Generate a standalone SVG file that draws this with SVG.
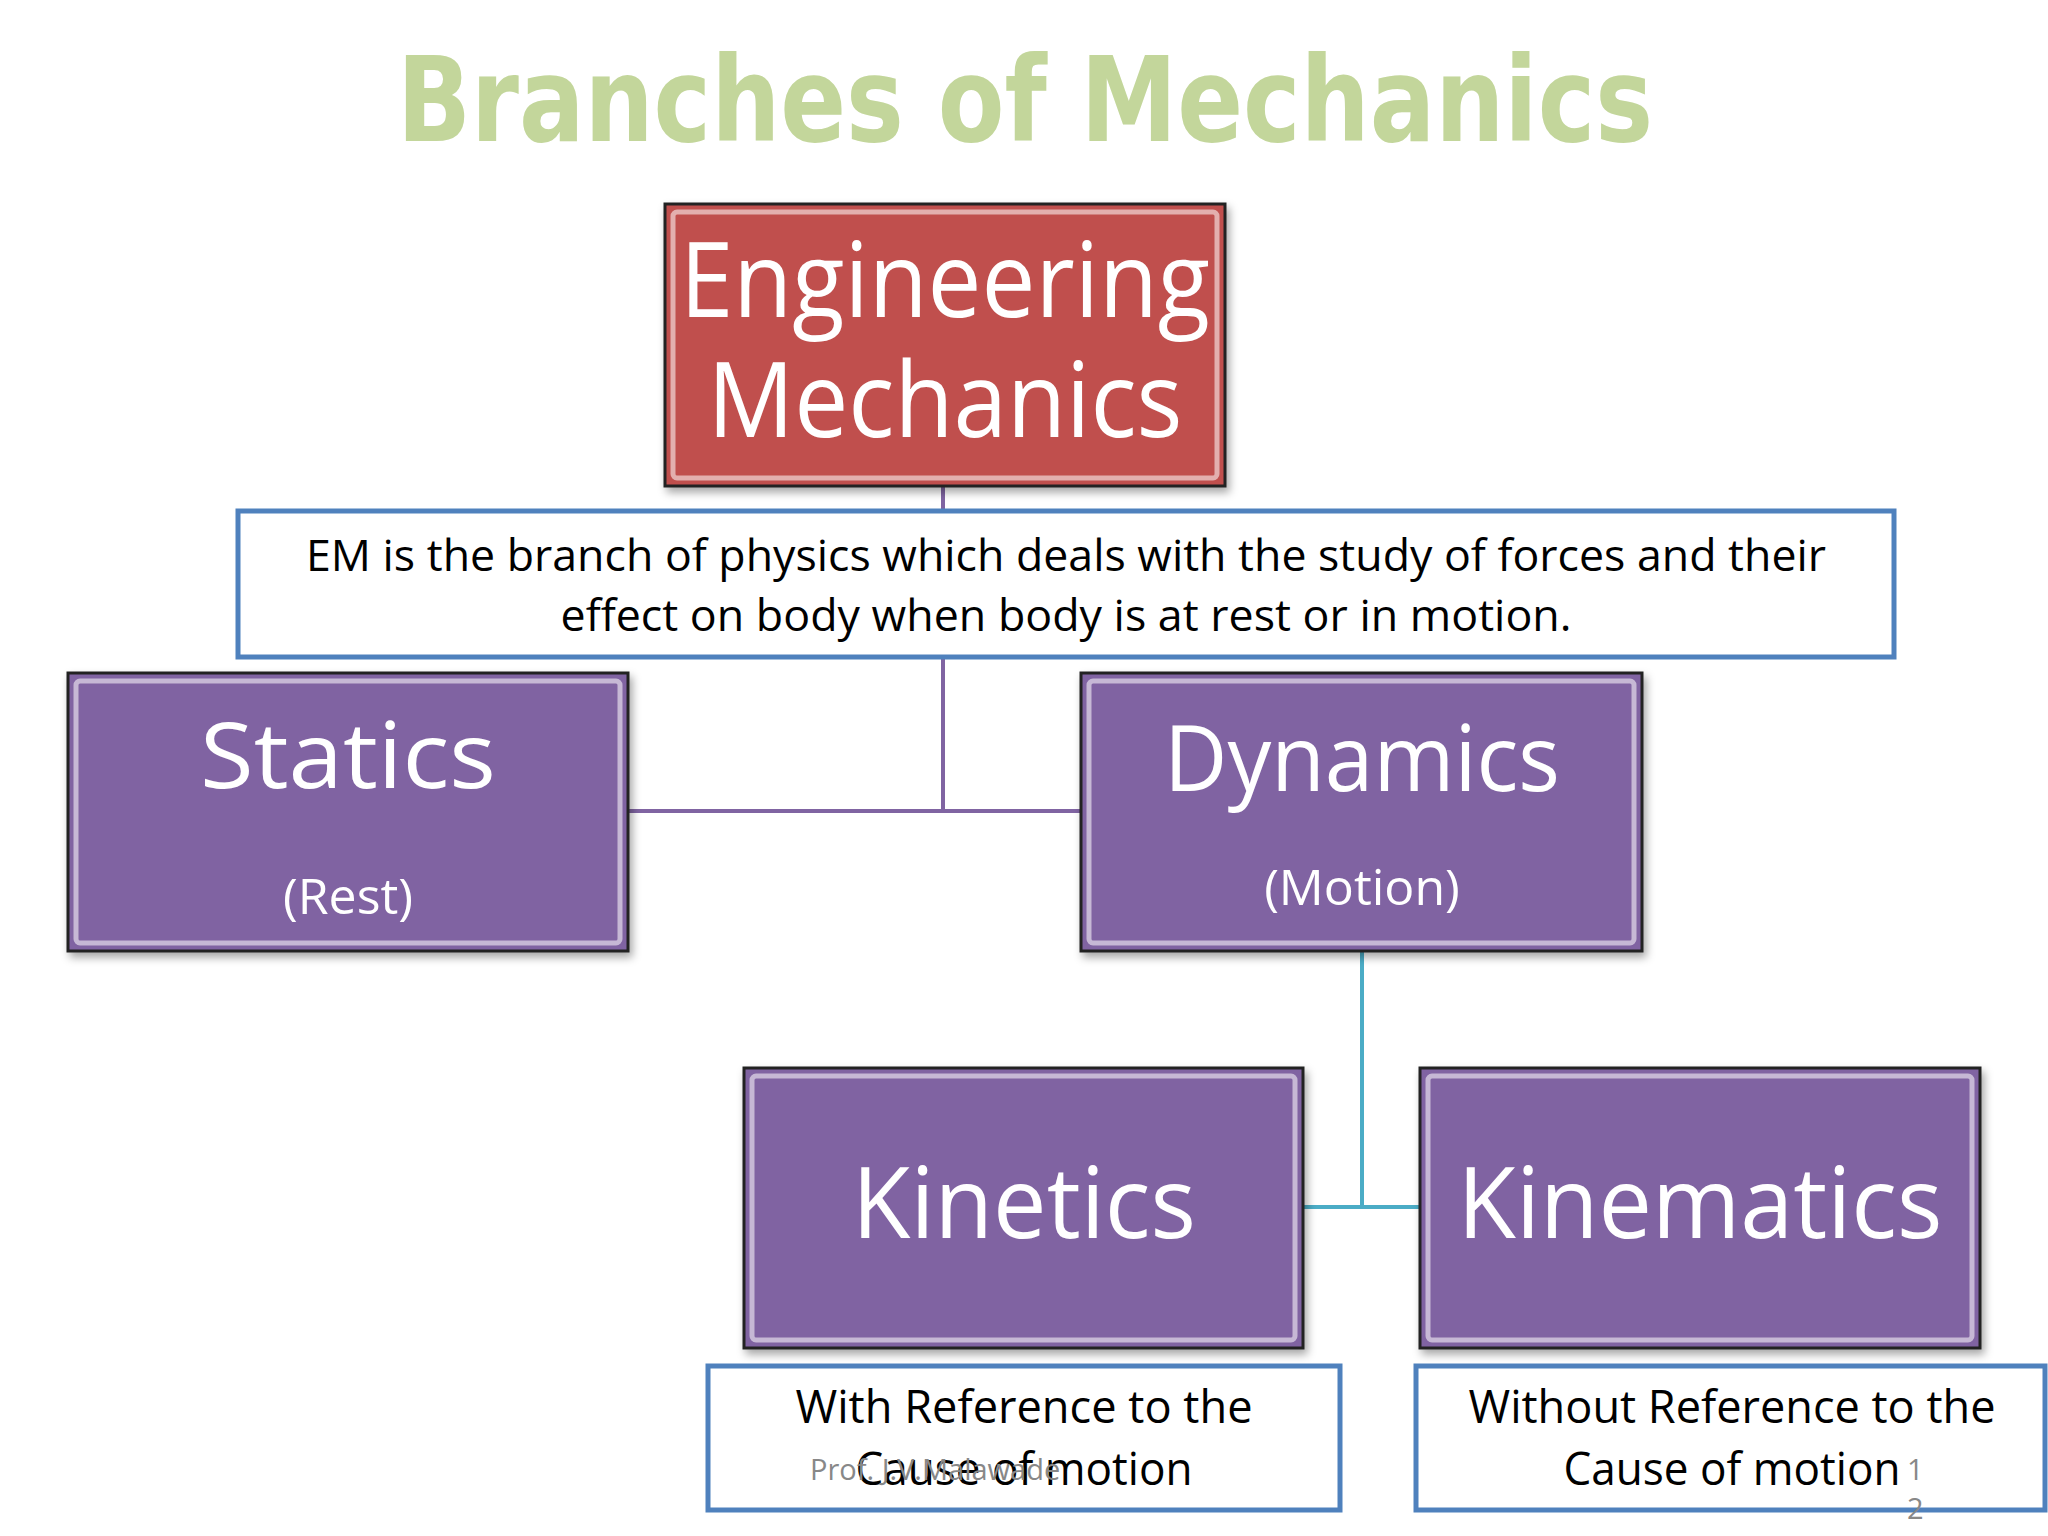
<svg xmlns="http://www.w3.org/2000/svg" width="2048" height="1536" viewBox="0 0 2048 1536">
<style>
.t{font-family:"Open Sans","Noto Sans","Liberation Sans",sans-serif;text-anchor:middle}
.w{fill:#fff}
.k{fill:#000}
.pur{fill:#8064a2;stroke:#222;stroke-width:3}
.red{fill:#c0504d;stroke:#222;stroke-width:3}
.bev{fill:none;stroke:#fff;stroke-opacity:0.55;stroke-width:5}
.note{fill:#fff;stroke:#4f81bd;stroke-width:5}
</style>
<defs>
<filter id="sh" x="-5%" y="-5%" width="115%" height="115%"><feDropShadow dx="3" dy="5" stdDeviation="4" flood-opacity="0.35"/></filter>
</defs>
<rect width="2048" height="1536" fill="#fff"/>
<text x="1025" y="141" font-family="'Comic Sans MS','DejaVu Sans',sans-serif" font-weight="bold" font-size="118" fill="#c3d69b" text-anchor="middle" textLength="1256" lengthAdjust="spacingAndGlyphs">Branches of Mechanics</text>
<g id="connectors" fill="none" stroke-width="4">
<path d="M943 486V511M943 657V811M629 811H1081" stroke="#8064a2"/>
<path d="M1362 951V1207M1303 1207H1420" stroke="#4bacc6"/>
</g>
<g id="em">
<rect class="red" x="665" y="204" width="560" height="282" filter="url(#sh)"/>
<rect class="bev" x="673" y="212" width="544" height="266" rx="4"/>
<text class="t w" x="945" y="317" font-size="104" textLength="530" lengthAdjust="spacingAndGlyphs">Engineering</text>
<text class="t w" x="945" y="437" font-size="104" textLength="475" lengthAdjust="spacingAndGlyphs">Mechanics</text>
</g>
<g id="def">
<rect class="note" x="238" y="511" width="1656" height="146"/>
<text class="t k" x="1066" y="571" font-size="44" textLength="1520" lengthAdjust="spacingAndGlyphs">EM is the branch of physics which deals with the study of forces and their</text>
<text class="t k" x="1066" y="631" font-size="44" textLength="1011" lengthAdjust="spacingAndGlyphs">effect on body when body is at rest or in motion.</text>
</g>
<g id="statics">
<rect class="pur" x="68" y="673" width="560" height="278" filter="url(#sh)"/>
<rect class="bev" x="76" y="681" width="544" height="262" rx="4"/>
<text class="t w" x="348" y="788" font-size="92" textLength="296" lengthAdjust="spacingAndGlyphs">Statics</text>
<text class="t w" x="348" y="914" font-size="50">(Rest)</text>
</g>
<g id="dynamics">
<rect class="pur" x="1081" y="673" width="561" height="278" filter="url(#sh)"/>
<rect class="bev" x="1089" y="681" width="545" height="262" rx="4"/>
<text class="t w" x="1362" y="791" font-size="92" textLength="396" lengthAdjust="spacingAndGlyphs">Dynamics</text>
<text class="t w" x="1362" y="905" font-size="50">(Motion)</text>
</g>
<g id="kinetics">
<rect class="pur" x="744" y="1068" width="559" height="280" filter="url(#sh)"/>
<rect class="bev" x="752" y="1076" width="543" height="264" rx="4"/>
<text class="t w" x="1024" y="1238" font-size="98" textLength="344" lengthAdjust="spacingAndGlyphs">Kinetics</text>
</g>
<g id="kinematics">
<rect class="pur" x="1420" y="1068" width="560" height="280" filter="url(#sh)"/>
<rect class="bev" x="1428" y="1076" width="544" height="264" rx="4"/>
<text class="t w" x="1700" y="1238" font-size="98" textLength="485" lengthAdjust="spacingAndGlyphs">Kinematics</text>
</g>
<g id="with">
<rect class="note" x="708" y="1366" width="632" height="144"/>
<text class="t k" x="1024" y="1423" font-size="46" textLength="457" lengthAdjust="spacingAndGlyphs">With Reference to the</text>
<text class="t k" x="1024" y="1485" font-size="46" textLength="337" lengthAdjust="spacingAndGlyphs">Cause of motion</text>
</g>
<g id="without">
<rect class="note" x="1416" y="1366" width="629" height="144"/>
<text class="t k" x="1732" y="1423" font-size="46" textLength="527" lengthAdjust="spacingAndGlyphs">Without Reference to the</text>
<text class="t k" x="1732" y="1485" font-size="46" textLength="337" lengthAdjust="spacingAndGlyphs">Cause of motion</text>
</g>
<g id="footer" font-family="'Open Sans','Liberation Sans',sans-serif" fill="#888" font-size="29">
<text x="810" y="1480">Prof. J.V.Malawade</text>
<text x="1907" y="1480">1</text>
<text x="1907" y="1519">2</text>
</g>
</svg>
